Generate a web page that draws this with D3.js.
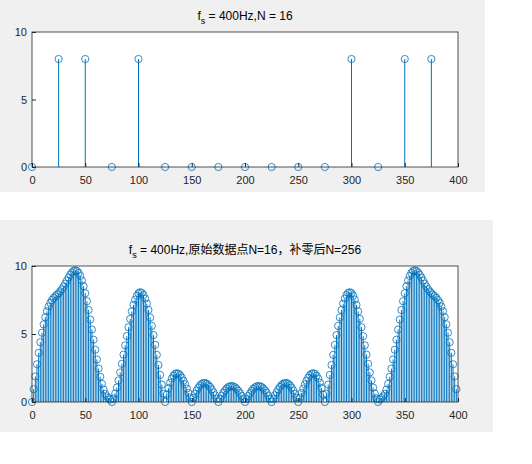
<!DOCTYPE html>
<html><head><meta charset="utf-8">
<script src="https://cdn.jsdelivr.net/npm/d3@7"></script>
<style>body{margin:0;background:#fff}svg{display:block}text{font-family:Arial,"Liberation Sans","Noto Sans CJK SC",sans-serif}</style>
</head><body><svg id="c" width="532" height="464"></svg>
<script>
// 16-point spectrum
const freq16 = [0,25,50,75,100,125,150,175,200,225,250,275,300,325,350,375];
const mag16 = [0,8,8,0,8,0,0,0,0,0,0,0,8,0,8,8];
// the 16 time samples behind both plots (fs = 400 Hz)
const samples = [1.2929,0.3244,-1,-0.3244,0.7071,0.2168,0,1.6310,2.7071,1.0898,-1,-1.0898,-0.7071,-1.6310,-2,-0.2168];
const xTicks = [0,50,100,150,200,250,300,350,400];
const yTicks = [0,5,10];
const NFFT = 256, fs = 400;

// zero-padded DFT magnitude
const mag256 = d3.range(NFFT).map(k => {
  let re = 0, im = 0;
  samples.forEach((v, n) => {
    const a = -2 * Math.PI * k * n / NFFT;
    re += v * Math.cos(a); im += v * Math.sin(a);
  });
  return Math.hypot(re, im);
});
const freq256 = d3.range(NFFT).map(k => k * fs / NFFT);

const svg = d3.select('#c');
const blue = '#0072BD';

function panel(opt) {
  svg.append('rect').attr('x', 0).attr('y', opt.bgTop).attr('width', opt.bgW)
    .attr('height', opt.bgH).attr('fill', '#f0f0f0');
  const x = d3.scaleLinear().domain([0, 400]).range([32, 458]);
  const y = d3.scaleLinear().domain([0, 10]).range([opt.y0, opt.y10]);
  const g = svg.append('g');
  g.append('rect').attr('x', 32).attr('y', opt.y10).attr('width', 426)
    .attr('height', opt.y0 - opt.y10).attr('fill', '#fff');
  g.selectAll('.s').data(opt.xs).join('line')
    .attr('x1', d => x(d)).attr('x2', d => x(d))
    .attr('y1', y(0)).attr('y2', (d, i) => y(opt.ys[i]))
    .attr('stroke', blue).attr('stroke-width', 1);
  g.selectAll('.m').data(opt.xs).join('circle')
    .attr('cx', d => x(d)).attr('cy', (d, i) => y(opt.ys[i])).attr('r', 3.6)
    .attr('fill', 'none').attr('stroke', blue).attr('stroke-width', 0.8);
  g.append('rect').attr('x', 32).attr('y', opt.y10).attr('width', 426)
    .attr('height', opt.y0 - opt.y10).attr('fill', 'none').attr('stroke', '#262626').attr('stroke-width', 0.8);
  const xa = g.append('g').attr('transform', `translate(0,${opt.y0})`)
    .call(d3.axisBottom(x).tickValues(xTicks).tickSize(-4).tickPadding(9));
  const ya = g.append('g').attr('transform', 'translate(32,0)')
    .call(d3.axisLeft(y).tickValues(yTicks).tickSize(-4).tickPadding(5));
  [xa, ya].forEach(a => {
    a.select('.domain').remove();
    a.selectAll('line').attr('stroke', '#262626');
    a.selectAll('text').attr('fill', '#262626').style('font-size', '11px');
  });
  const t = svg.append('text').attr('x', 245).attr('y', opt.titleY)
    .attr('text-anchor', 'middle').attr('fill', '#000').style('font-size', '12px');
  t.append('tspan').text('f');
  t.append('tspan').attr('dy', 4).style('font-size', '9px').text('s');
  t.append('tspan').attr('dy', -4).text(opt.title);
}

panel({bgTop: 0, bgW: 485, bgH: 192, y0: 167, y10: 32, titleY: 20,
  xs: freq16, ys: mag16, title: ' = 400Hz,N = 16'});
panel({bgTop: 220, bgW: 493, bgH: 212, y0: 402, y10: 266, titleY: 254,
  xs: freq256, ys: mag256, title: ' = 400Hz,原始数据点N=16，补零后N=256'});
</script></body></html>
